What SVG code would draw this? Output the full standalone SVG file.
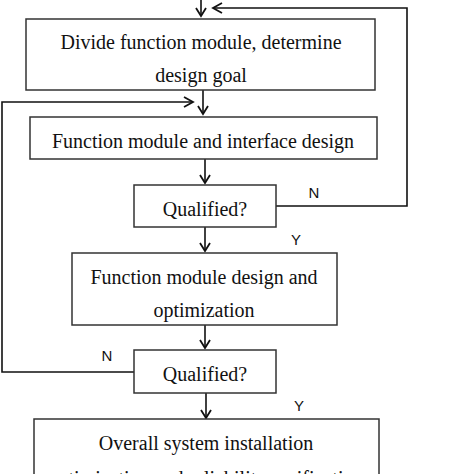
<svg xmlns="http://www.w3.org/2000/svg" width="474" height="474" viewBox="0 0 474 474">
<style>
.box{fill:#fff;stroke:#333;stroke-width:1.5}
.t{font-family:"Liberation Serif","Times New Roman",serif;font-size:20px;fill:#111;text-anchor:middle}
.l{font-family:"Liberation Sans",Arial,sans-serif;font-size:15px;fill:#111;text-anchor:middle}
.c{fill:none;stroke:#111;stroke-width:1.6}
.h{fill:none;stroke:#111;stroke-width:1.8}
</style>
<rect width="474" height="474" fill="#fff"/>
<g id="connectors">
<path class="c" d="M201,0 V16"/><path class="h" d="M196,8 L201,16 L206,8"/>
<path class="c" d="M276,206 H407 V8 H213"/><path class="h" d="M222,3 L213,8 L222,13"/>
<path class="c" d="M203,90 V114"/><path class="h" d="M198,106 L203,114 L208,106"/>
<path class="c" d="M134,372 H2 V102 H193"/><path class="h" d="M184,97 L193,102 L184,107"/>
<path class="c" d="M205,159 V183"/><path class="h" d="M200,175 L205,183 L210,175"/>
<path class="c" d="M205,227 V251"/><path class="h" d="M200,243 L205,251 L210,243"/>
<path class="c" d="M205,325 V348"/><path class="h" d="M200,340 L205,348 L210,340"/>
<path class="c" d="M206,393 V418"/><path class="h" d="M201,410 L206,418 L211,410"/>
<text class="l" x="314" y="198">N</text>
<text class="l" x="296" y="245">Y</text>
<text class="l" x="107" y="361">N</text>
<text class="l" x="299" y="411">Y</text>
</g>
<g id="n1">
<rect class="box" x="26" y="19" width="349" height="71"/>
<text class="t" x="201" y="49">Divide function module, determine</text>
<text class="t" x="201" y="82">design goal</text>
</g>
<g id="n2">
<rect class="box" x="30" y="117" width="347" height="42"/>
<text class="t" x="203" y="148">Function module and interface design</text>
</g>
<g id="n3">
<rect class="box" x="134" y="185" width="142" height="42"/>
<text class="t" x="205" y="216">Qualified?</text>
</g>
<g id="n4">
<rect class="box" x="72" y="253" width="265" height="72"/>
<text class="t" x="204" y="284">Function module design and</text>
<text class="t" x="204" y="317">optimization</text>
</g>
<g id="n5">
<rect class="box" x="134" y="350" width="142" height="43"/>
<text class="t" x="205" y="381">Qualified?</text>
</g>
<g id="n6">
<rect class="box" x="34" y="419" width="345" height="80"/>
<text class="t" x="206" y="450">Overall system installation</text>
<text class="t" x="206" y="485">optimization and reliability verification</text>
</g>
</svg>
